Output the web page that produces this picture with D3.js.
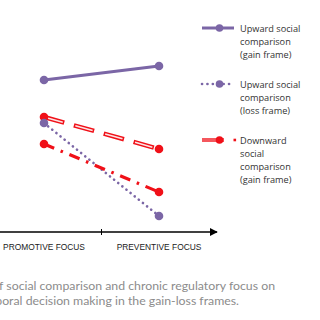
<!DOCTYPE html>
<html>
<head>
<meta charset="utf-8">
<script src="https://cdn.jsdelivr.net/npm/d3@7"></script>
<style>
  html, body { margin: 0; padding: 0; background: #fff; overflow: hidden; }
</style>
</head>
<body>
<div id="container"></div>
<script>
// Data
let categories = ["PROMOTIVE FOCUS", "PREVENTIVE FOCUS"];
let upwardGain = [76, 83];
let upwardLoss = [54.5, 8];
let downwardLoss = [57.5, 41.5];
let downwardGain = [44, 20];
let legendLabels = [
  ["Upward social", "comparison", "(gain frame)"],
  ["Upward social", "comparison", "(loss frame)"],
  ["Downward", "social", "comparison", "(gain frame)"]
];
let captionLines = [
  "of social comparison and chronic regulatory focus on",
  "intertemporal decision making in the gain-loss frames."
];

let purple = "#7b66a6";
let red = "#f01018";

let svg = d3.select("#container")
  .append("svg")
  .attr("width", 320)
  .attr("height", 320);

let x = d3.scalePoint().domain(categories).range([44, 159]);
let y = d3.scaleLinear().domain([0, 100]).range([232, 32]);

let line = d3.line()
  .x((d, i) => x(categories[i]))
  .y((d) => y(d));

// Axis with arrow
svg.append("defs").append("marker")
  .attr("id", "arrow")
  .attr("viewBox", "0 0 10 10")
  .attr("refX", 9).attr("refY", 5)
  .attr("markerWidth", 8).attr("markerHeight", 8)
  .attr("markerUnits", "userSpaceOnUse")
  .attr("orient", "auto")
  .append("path")
  .attr("d", "M0,0 L10,5 L0,10 z")
  .attr("fill", "#000");

svg.append("line")
  .attr("x1", -5).attr("x2", 217)
  .attr("y1", 232).attr("y2", 232)
  .attr("stroke", "#000")
  .attr("stroke-width", 1.3)
  .attr("marker-end", "url(#arrow)");

svg.append("line")
  .attr("x1", (x(categories[0]) + x(categories[1])) / 2)
  .attr("x2", (x(categories[0]) + x(categories[1])) / 2)
  .attr("y1", 229).attr("y2", 235)
  .attr("stroke", "#000")
  .attr("stroke-width", 1);

svg.selectAll("text.cat")
  .data(categories)
  .enter()
  .append("text")
  .attr("class", "cat")
  .attr("x", (d) => x(d))
  .attr("y", 249.5)
  .attr("text-anchor", "middle")
  .style("font-family", "'Liberation Sans', Arial, sans-serif")
  .style("font-size", "8.4px")
  .style("fill", "#1a1a1a")
  .text((d) => d);

// Series
function markers(values, color) {
  svg.append("g")
    .selectAll("circle")
    .data(values)
    .enter()
    .append("circle")
    .attr("cx", (d, i) => x(categories[i]))
    .attr("cy", (d) => y(d))
    .attr("r", 4.3)
    .attr("fill", color);
}

// upward gain: solid purple
svg.append("path")
  .attr("d", line(upwardGain))
  .attr("fill", "none")
  .attr("stroke", purple)
  .attr("stroke-width", 3);
markers(upwardGain, purple);

// downward loss: hollow red dashes
svg.append("path")
  .attr("d", line(downwardLoss))
  .attr("fill", "none")
  .attr("stroke", red)
  .attr("stroke-width", 4.5)
  .attr("stroke-dasharray", "21,10");
svg.append("path")
  .attr("d", line(downwardLoss))
  .attr("fill", "none")
  .attr("stroke", "#fde4e4")
  .attr("stroke-width", 1.6)
  .attr("stroke-dasharray", "0,1.5,18,11.5");
markers(downwardLoss, red);

// upward loss: dotted purple
svg.append("path")
  .attr("d", line(upwardLoss))
  .attr("fill", "none")
  .attr("stroke", purple)
  .attr("stroke-width", 2.6)
  .attr("stroke-linecap", "round")
  .attr("stroke-dasharray", "0.1,5.2");
markers(upwardLoss, purple);

// downward gain: red dash-dot
svg.append("path")
  .attr("d", line(downwardGain))
  .attr("fill", "none")
  .attr("stroke", red)
  .attr("stroke-width", 3.2)
  .attr("stroke-dasharray", "11,7,2.5,7");
markers(downwardGain, red);

// Legend
let legendY = [28, 84, 140];
let lg = svg.append("g");

lg.append("line")
  .attr("x1", 202).attr("x2", 234)
  .attr("y1", legendY[0]).attr("y2", legendY[0])
  .attr("stroke", purple).attr("stroke-width", 3);
lg.append("line")
  .attr("x1", 202).attr("x2", 234)
  .attr("y1", legendY[1]).attr("y2", legendY[1])
  .attr("stroke", purple).attr("stroke-width", 2.6)
  .attr("stroke-linecap", "round")
  .attr("stroke-dasharray", "0.1,5.3");
lg.append("line")
  .attr("x1", 202).attr("x2", 224)
  .attr("y1", legendY[2]).attr("y2", legendY[2])
  .attr("stroke", red).attr("stroke-opacity", 0.7).attr("stroke-width", 4);
lg.append("rect")
  .attr("x", 233.5).attr("y", legendY[2] - 1.3)
  .attr("width", 2.6).attr("height", 2.6)
  .attr("fill", red);
lg.selectAll("circle")
  .data(legendY)
  .enter()
  .append("circle")
  .attr("cx", 219.5)
  .attr("cy", (d) => d)
  .attr("r", 3.8)
  .attr("fill", (d, i) => i < 2 ? purple : red);

legendLabels.forEach((lines, i) => {
  lg.selectAll(null)
    .data(lines)
    .enter()
    .append("text")
    .attr("x", 240)
    .attr("y", (d, j) => legendY[i] + 3.5 + j * 13)
    .style("font-family", "'Open Sans', sans-serif")
    .style("font-size", "9.2px")
    .style("fill", "#333")
    .text((d) => d);
});

// Caption (cut off on the left, as in the source)
let capRight = [275, 239];
svg.selectAll("text.cap")
  .data(captionLines)
  .enter()
  .append("text")
  .attr("class", "cap")
  .attr("x", (d, i) => capRight[i])
  .attr("y", (d, i) => 289.5 + i * 15)
  .attr("text-anchor", "end")
  .style("font-family", "Lato, sans-serif")
  .style("font-size", "12.3px")
  .style("fill", "#8c8c8c")
  .text((d) => d);
</script>
</body>
</html>
